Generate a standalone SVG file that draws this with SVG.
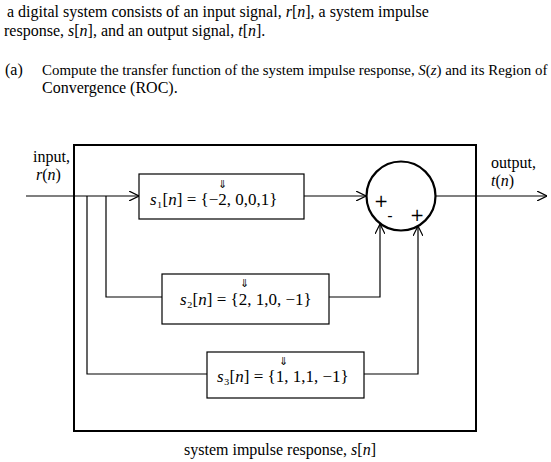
<svg xmlns="http://www.w3.org/2000/svg" width="551" height="462" viewBox="0 0 551 462">
<defs>
<style>
.t{font-family:"Liberation Serif","Times New Roman",serif;font-size:16px;fill:#000}
.m{font-family:"Liberation Serif","Times New Roman",serif;font-size:17px;fill:#000}
.i{font-style:italic}
.box{fill:#fff;stroke:#000;stroke-width:1.2}
.ln{fill:none;stroke:#000;stroke-width:1.2}
.ar{font-family:"DejaVu Sans",sans-serif;font-size:11px;fill:#000}
.sg{font-family:"DejaVu Sans",sans-serif;fill:#000;text-anchor:middle}
</style>
<marker id="oa" viewBox="0 0 10 10" refX="10" refY="5" markerWidth="10" markerHeight="10" markerUnits="userSpaceOnUse" orient="auto">
<path d="M0,0 L10,5 L0,10" fill="none" stroke="#000" stroke-width="1.2"/>
</marker>
</defs>
<rect width="551" height="462" fill="#fff"/>
<g id="header">
<text class="t" x="7" y="17" font-size="15.8">a digital system consists of an input signal, <tspan class="i">r</tspan>[<tspan class="i">n</tspan>], a system impulse</text>
<text class="t" x="4" y="36" font-size="15.8">response, <tspan class="i">s</tspan>[<tspan class="i">n</tspan>], and an output signal, <tspan class="i">t</tspan>[<tspan class="i">n</tspan>].</text>
<text class="t" x="5" y="75">(a)</text>
<text class="t" x="42" y="75" style="font-size:14.9px">Compute the transfer function of the system impulse response, <tspan class="i">S</tspan>(<tspan class="i">z</tspan>) and its Region of</text>
<text class="t" x="42" y="93">Convergence (ROC).</text>
</g>
<g id="system">
<rect x="74" y="145" width="402" height="286" fill="none" stroke="#000" stroke-width="2"/>
</g>
<g id="connectors">
<line class="ln" x1="26" y1="196" x2="139" y2="196" marker-end="url(#oa)"/>
<polyline class="ln" points="87,196 87,374 207,374"/>
<polyline class="ln" points="106,196 106,297 162,297"/>
<line class="ln" x1="304" y1="196" x2="366" y2="196" marker-end="url(#oa)"/>
<polyline class="ln" points="329,297 380,297 380,224" marker-end="url(#oa)"/>
<polyline class="ln" points="364,374 418,374 418,226" marker-end="url(#oa)"/>
<line class="ln" x1="436" y1="196" x2="547" y2="196" marker-end="url(#oa)"/>
</g>
<g id="s1">
<rect class="box" x="139" y="174" width="165" height="45"/>
<text class="ar" x="218" y="188">⇓</text>
<text class="m" x="150" y="205"><tspan class="i">s</tspan>₁[<tspan class="i">n</tspan>] = {−2, 0,0,1}</text>
</g>
<g id="s2">
<rect class="box" x="162" y="274" width="167" height="50"/>
<text class="ar" x="240" y="287">⇓</text>
<text class="m" x="180" y="305"><tspan class="i">s</tspan>₂[<tspan class="i">n</tspan>] = {2, 1,0, −1}</text>
</g>
<g id="s3">
<rect class="box" x="207" y="352" width="157" height="46"/>
<text class="ar" x="279" y="365">⇓</text>
<text class="m" x="217" y="382"><tspan class="i">s</tspan>₃[<tspan class="i">n</tspan>] = {1, 1,1, −1}</text>
</g>
<g id="sum">
<circle cx="401" cy="196" r="34.5" fill="#fff" stroke="#000" stroke-width="2.2"/>
<text class="sg" x="381" y="207" font-size="17">+</text>
<text class="sg" x="390" y="221" font-size="15">-</text>
<text class="sg" x="417" y="221" font-size="17">+</text>
</g>
<g id="labels">
<text class="t" x="33" y="162">input,</text>
<text class="t" x="36" y="180"><tspan class="i">r</tspan>(<tspan class="i">n</tspan>)</text>
<text class="t" x="491" y="168">output,</text>
<text class="t" x="491" y="186"><tspan class="i">t</tspan>(<tspan class="i">n</tspan>)</text>
<text class="t" x="280" y="455" text-anchor="middle">system impulse response, <tspan class="i">s</tspan>[<tspan class="i">n</tspan>]</text>
</g>
</svg>
